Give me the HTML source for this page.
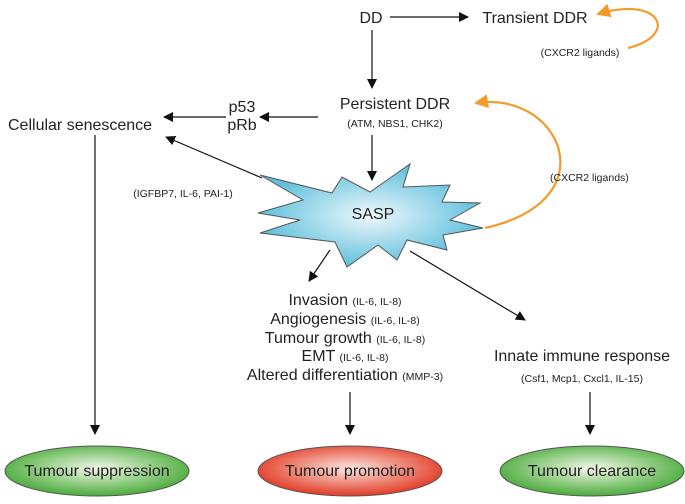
<!DOCTYPE html>
<html><head><style>
html,body{margin:0;padding:0;background:#fff}
svg{display:block}
text{font-family:"Liberation Sans",Arial,sans-serif;fill:#222}
.m{font-size:16px}.s{font-size:10.5px}
</style></head><body>
<svg width="685" height="504" viewBox="0 0 685 504">
<defs>
<marker id="a" markerWidth="10" markerHeight="10" refX="9" refY="5" orient="auto" markerUnits="userSpaceOnUse"><path d="M0,0 L10,5 L0,10 z" fill="#111"/></marker>
<marker id="o" markerWidth="14" markerHeight="14" refX="12" refY="7" orient="auto" markerUnits="userSpaceOnUse"><path d="M0,0 L14,7 L0,14 z" fill="#f39a2a"/></marker>
<radialGradient id="sg" cx="50%" cy="50%" r="50%"><stop offset="0" stop-color="#eef8fc"/><stop offset="1" stop-color="#5fc0dc"/></radialGradient>
<radialGradient id="gg" cx="50%" cy="45%" r="55%"><stop offset="0" stop-color="#f2f8e8"/><stop offset="1" stop-color="#4aab3a"/></radialGradient>
<radialGradient id="rg" cx="50%" cy="45%" r="55%"><stop offset="0" stop-color="#fbe6df"/><stop offset="1" stop-color="#e23a24"/></radialGradient>
</defs>
<g stroke="#111" stroke-width="1.2" fill="none" marker-end="url(#a)">
<line x1="390" y1="17" x2="468" y2="17"/>
<line x1="372" y1="30" x2="372" y2="88"/>
<line x1="372" y1="135" x2="372" y2="180"/>
<line x1="318" y1="117" x2="260" y2="117"/>
<line x1="226" y1="117" x2="164" y2="117"/>
<line x1="262" y1="178" x2="166" y2="137"/>
<line x1="330" y1="250" x2="309" y2="281"/>
<line x1="410" y1="251" x2="525" y2="320"/>
<line x1="95" y1="135" x2="95" y2="434"/>
<line x1="350" y1="392" x2="350" y2="434"/>
<line x1="590" y1="392" x2="590" y2="434"/>
</g>
<g stroke="#f39a2a" stroke-width="2.2" fill="none" marker-end="url(#o)">
<path d="M628,48 C680,35 660,-5 598,14"/>
<path d="M485,228 C610,200 560,90 476,103"/>
</g>
<polygon fill="url(#sg)" stroke="#555" stroke-width="1" points="260,175 332,193 342,177 370,192 410,164 403,187 450,185 442,202 480,203 450,220 483,228 443,235 447,250 407,240 397,260 378,245 347,267 335,242 260,233 300,220 258,213 303,200"/>
<text x="373" y="219" class="m" text-anchor="middle">SASP</text>
<text x="371" y="23" class="m" text-anchor="middle">DD</text>
<text x="535" y="23" class="m" text-anchor="middle">Transient DDR</text>
<text x="580" y="56" class="s" text-anchor="middle">(CXCR2 ligands)</text>
<text x="395" y="109" class="m" text-anchor="middle">Persistent DDR</text>
<text x="395" y="127" class="s" text-anchor="middle">(ATM, NBS1, CHK2)</text>
<text x="242" y="112" class="m" text-anchor="middle">p53</text>
<text x="242" y="130" class="m" text-anchor="middle">pRb</text>
<text x="8" y="130" class="m">Cellular senescence</text>
<text x="183" y="197" class="s" text-anchor="middle">(IGFBP7, IL-6, PAI-1)</text>
<text x="550" y="181" class="s">(CXCR2 ligands)</text>
<text x="345" y="305" class="m" text-anchor="middle">Invasion <tspan class="s">(IL-6, IL-8)</tspan></text>
<text x="345" y="324" class="m" text-anchor="middle">Angiogenesis <tspan class="s">(IL-6, IL-8)</tspan></text>
<text x="345" y="343" class="m" text-anchor="middle">Tumour growth <tspan class="s">(IL-6, IL-8)</tspan></text>
<text x="345" y="361" class="m" text-anchor="middle">EMT <tspan class="s">(IL-6, IL-8)</tspan></text>
<text x="345" y="380" class="m" text-anchor="middle">Altered differentiation <tspan class="s">(MMP-3)</tspan></text>
<text x="582" y="361" class="m" text-anchor="middle">Innate immune response</text>
<text x="582" y="382" class="s" text-anchor="middle">(Csf1, Mcp1, Cxcl1, IL-15)</text>
<ellipse cx="97" cy="471" rx="92" ry="25" fill="url(#gg)" stroke="#555"/>
<ellipse cx="350" cy="471" rx="92" ry="25" fill="url(#rg)" stroke="#555"/>
<ellipse cx="592" cy="471" rx="92" ry="25" fill="url(#gg)" stroke="#555"/>
<text x="97" y="476" class="m" text-anchor="middle">Tumour suppression</text>
<text x="350" y="476" class="m" text-anchor="middle">Tumour promotion</text>
<text x="592" y="476" class="m" text-anchor="middle">Tumour clearance</text>
</svg>
</body></html>
